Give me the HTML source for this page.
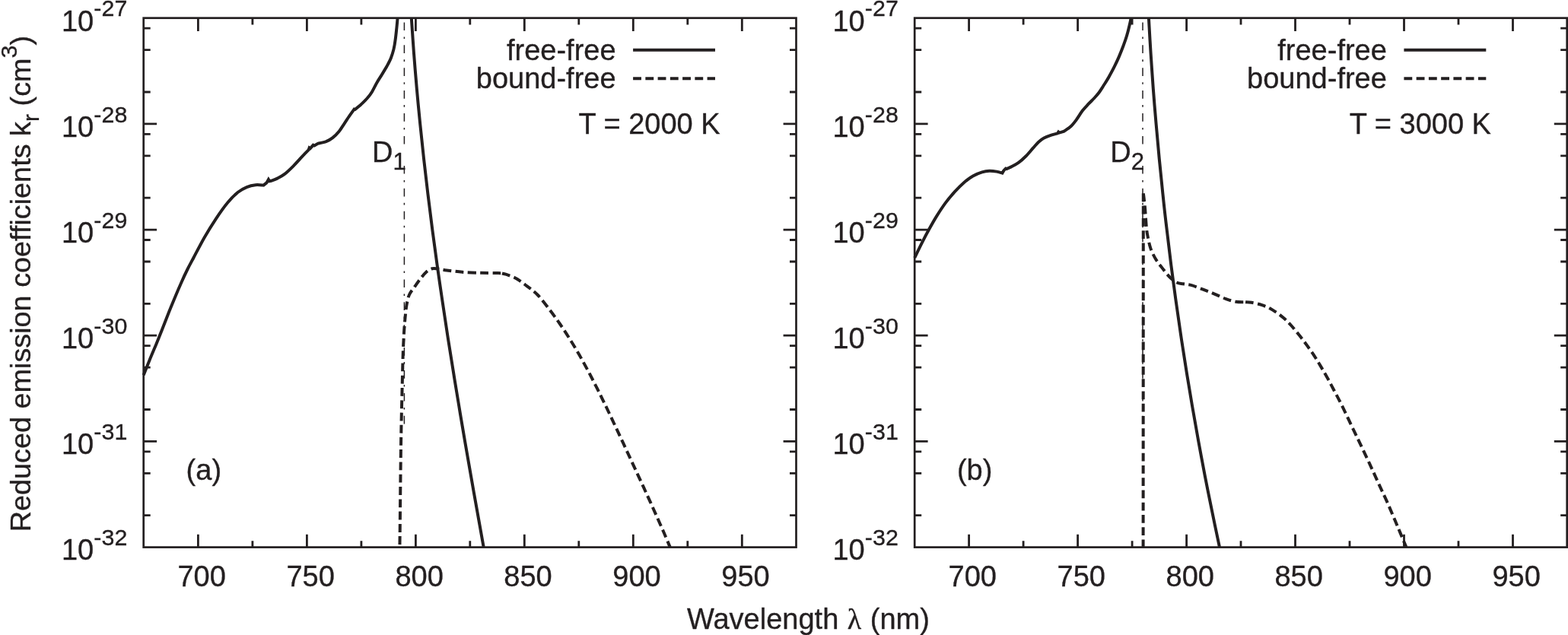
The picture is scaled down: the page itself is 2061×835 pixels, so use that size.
<!DOCTYPE html>
<html lang="en"><head><meta charset="utf-8"><title>Reduced emission coefficients</title>
<style>
html,body{margin:0;padding:0;background:#fff;}
body{width:2061px;height:835px;overflow:hidden;}
svg{display:block;}
text{font-family:"Liberation Sans", sans-serif;font-size:38.0px;fill:#231f20;stroke:#231f20;stroke-width:0.35px;stroke-linejoin:round;}
.s{font-size:30.4px;}
.b{font-size:31px;}
.ax{stroke:#231f20;stroke-width:2.7;fill:none;}
.tk{stroke:#231f20;stroke-width:2.8;fill:none;}
.cv{stroke:#231f20;stroke-width:4.0;fill:none;stroke-linejoin:miter;stroke-miterlimit:6;}
.ds{stroke:#231f20;stroke-width:4.0;fill:none;stroke-dasharray:10.85 5.4;stroke-linejoin:round;}
.dd{stroke:#231f20;stroke-width:1.5;fill:none;stroke-dasharray:10.7 8.3 2.6 8.3;}
</style></head><body>
<svg width="2061" height="835" viewBox="0 0 2061 835">
<rect width="2061" height="835" fill="#fff"/>
<g id="panel1">
<path class="tk" d="M260.4,719.6v-16.8M260.4,23.7v17.3M331.9,719.6v-8.3M331.9,23.7v8.7M403.4,719.6v-16.8M403.4,23.7v17.3M474.9,719.6v-8.3M474.9,23.7v8.7M546.4,719.6v-16.8M546.4,23.7v17.3M617.8,719.6v-8.3M617.8,23.7v8.7M689.3,719.6v-16.8M689.3,23.7v17.3M760.8,719.6v-8.3M760.8,23.7v8.7M832.3,719.6v-16.8M832.3,23.7v17.3M903.8,719.6v-8.3M903.8,23.7v8.7M975.3,719.6v-16.8M975.3,23.7v17.3M188.7,37.2h9.0M1046.5,37.2h-8.5M188.7,65.6h9.0M1046.5,65.6h-8.5M188.7,121.0h9.0M1046.5,121.0h-8.5M188.7,162.9h17.4M1046.5,162.9h-16.9M188.7,176.4h9.0M1046.5,176.4h-8.5M188.7,204.8h9.0M1046.5,204.8h-8.5M188.7,260.2h9.0M1046.5,260.2h-8.5M188.7,302.1h17.4M1046.5,302.1h-16.9M188.7,315.5h9.0M1046.5,315.5h-8.5M188.7,344.0h9.0M1046.5,344.0h-8.5M188.7,399.3h9.0M1046.5,399.3h-8.5M188.7,441.2h17.4M1046.5,441.2h-16.9M188.7,454.7h9.0M1046.5,454.7h-8.5M188.7,483.1h9.0M1046.5,483.1h-8.5M188.7,538.5h9.0M1046.5,538.5h-8.5M188.7,580.4h17.4M1046.5,580.4h-16.9M188.7,593.9h9.0M1046.5,593.9h-8.5M188.7,622.3h9.0M1046.5,622.3h-8.5M188.7,677.7h9.0M1046.5,677.7h-8.5"/>
<path class="dd" d="M531.4,189.6V23.7"/><path class="dd" d="M531.4,217.9V557.5"/><path class="cv" d="M188.7,493.3 C190.1,489.8 194.2,479.4 197.0,472.5 C199.8,465.6 202.7,458.9 205.5,452.2 C208.3,445.4 210.9,438.8 213.6,432.0 C216.3,425.2 218.9,418.3 221.6,411.5 C224.3,404.7 227.2,397.8 230.0,391.0 C232.8,384.2 235.9,376.9 238.7,370.7 C241.4,364.5 243.9,359.3 246.5,354.0 C249.1,348.7 250.7,346.0 254.4,339.0 C258.1,332.0 263.8,320.8 268.7,312.2 C273.6,303.6 279.0,295.0 284.1,287.3 C289.2,279.6 294.6,271.9 299.4,266.2 C304.2,260.4 308.6,256.2 312.8,252.8 C317.0,249.5 320.5,247.7 324.3,246.1 C328.1,244.5 332.1,243.6 335.8,243.2 C339.5,242.8 344.6,243.5 346.3,243.6 L350.4,240.4 L352.9,236.0 L354.3,238.3 L356.5,237.8 C357.8,237.3 361.6,236.1 364.5,234.6 C367.4,233.1 370.6,231.6 374.1,228.9 C377.6,226.2 381.8,222.1 385.6,218.3 C389.4,214.5 393.8,209.4 397.1,205.9 C400.4,202.4 404.2,198.6 405.6,197.2 L406.6,194.4 L407.8,195.2 L411.7,190.8 L413.2,191.5 L418.2,188.6 C419.9,188.2 425.4,187.3 428.6,186.1 C431.8,184.8 434.4,183.4 437.3,181.1 C440.2,178.8 443.4,175.6 445.9,172.5 C448.4,169.4 450.2,166.0 452.4,162.8 C454.5,159.6 456.9,155.8 458.8,153.1 C460.7,150.4 462.8,147.5 463.6,146.4 L465.6,143.6 L466.8,143.9 L473.9,138.0 C475.3,136.6 480.1,132.2 482.6,129.3 C485.1,126.4 486.9,124.2 489.0,120.7 C491.1,117.2 493.3,112.3 495.5,108.5 C497.7,104.7 499.9,101.5 502.0,98.0 C504.1,94.5 506.4,90.9 508.4,87.3 C510.4,83.7 512.3,80.3 513.8,76.5 C515.3,72.7 516.5,68.7 517.5,64.6 C518.5,60.5 519.1,56.4 519.7,51.7 C520.4,47.0 520.9,41.3 521.4,36.6 C521.9,31.9 522.4,25.9 522.6,23.7"/><path class="cv" d="M540.8,23.7 C541.3,31.4 542.8,54.6 544.0,70.1 C545.2,85.6 546.4,101.0 547.8,116.5 C549.2,132.0 550.6,147.4 552.2,162.9 C553.7,178.3 555.4,193.8 557.1,209.3 C558.8,224.7 560.6,240.2 562.5,255.7 C564.4,271.1 566.3,286.6 568.3,302.1 C570.4,317.5 572.5,333.0 574.6,348.5 C576.8,363.9 579.0,379.4 581.3,394.8 C583.6,410.3 585.9,425.8 588.3,441.2 C590.7,456.7 593.2,472.2 595.7,487.6 C598.1,503.1 600.7,518.6 603.3,534.0 C605.8,549.5 608.5,565.0 611.1,580.4 C613.8,595.9 616.5,611.3 619.2,626.8 C621.9,642.3 624.6,657.7 627.4,673.2 C630.2,688.7 634.4,711.9 635.7,719.6"/><path class="ds" stroke-dashoffset="11.6" d="M525.4,720.5 C525.5,713.8 525.7,700.1 525.9,680.0 C526.1,659.9 526.5,623.3 526.8,600.0 C527.1,576.7 527.4,561.7 527.9,540.0 C528.4,518.3 529.2,485.0 529.6,470.0 C530.0,455.0 530.1,456.2 530.4,450.0 C530.7,443.8 530.9,438.5 531.3,433.0 C531.7,427.5 532.1,422.3 532.6,417.0 C533.1,411.7 533.6,405.9 534.5,401.0 C535.4,396.1 536.2,391.5 538.0,387.5 C539.8,383.5 542.6,380.5 545.1,377.0 C547.6,373.5 550.2,369.5 552.8,366.3 C555.4,363.1 558.0,359.8 560.5,357.6 C563.0,355.4 565.6,353.9 568.1,353.2 C570.6,352.5 572.6,353.1 575.8,353.5 C579.0,353.9 581.9,354.7 587.3,355.4 C592.6,356.1 600.5,357.2 607.9,357.8 C615.3,358.4 624.9,358.6 631.9,358.8 C638.9,359.0 645.6,358.9 650.0,359.0 C654.4,359.1 657.0,359.2 658.4,359.2"/><path class="ds" d="M660.0,359.5 C660.8,359.7 662.8,360.1 664.8,360.7 C666.8,361.3 669.5,362.2 672.0,363.3 C674.5,364.4 676.4,364.8 679.9,367.0 C683.4,369.2 688.3,372.9 692.8,376.4 C697.3,379.9 701.9,382.8 706.9,388.0 C711.8,393.2 717.6,401.0 722.6,407.5 C727.6,414.0 732.2,420.5 736.7,427.0 C741.2,433.5 745.4,440.0 749.4,446.6 C753.5,453.1 757.3,459.6 761.1,466.1 C764.8,472.6 768.4,479.1 771.9,485.6 C775.4,492.1 778.7,498.6 782.0,505.1 C785.4,511.6 788.6,518.1 791.7,524.6 C794.9,531.1 798.0,537.6 801.1,544.1 C804.2,550.6 807.3,557.2 810.3,563.7 C813.3,570.2 816.4,576.7 819.4,583.2 C822.4,589.7 825.4,596.2 828.4,602.7 C831.4,609.2 834.4,615.7 837.4,622.2 C840.4,628.7 843.4,635.2 846.4,641.7 C849.3,648.2 852.3,654.7 855.3,661.2 C858.2,667.8 861.1,674.3 864.0,680.8 C866.9,687.3 869.8,693.8 872.6,700.3 C875.4,706.8 879.5,716.5 880.8,719.8"/><path class="cv" d="M832.1,65.8H940"/><path class="ds" d="M832.1,103.3H940"/>
<rect class="ax" x="188.7" y="23.7" width="857.8" height="695.9"/>
<text x="167.3" y="40.5" text-anchor="end">10<tspan class="s" dx="0.2" dy="-19.2">-27</tspan></text>
<text x="167.3" y="179.7" text-anchor="end">10<tspan class="s" dx="0.2" dy="-19.2">-28</tspan></text>
<text x="167.3" y="318.9" text-anchor="end">10<tspan class="s" dx="0.2" dy="-19.2">-29</tspan></text>
<text x="167.3" y="458.0" text-anchor="end">10<tspan class="s" dx="0.2" dy="-19.2">-30</tspan></text>
<text x="167.3" y="597.2" text-anchor="end">10<tspan class="s" dx="0.2" dy="-19.2">-31</tspan></text>
<text x="167.3" y="736.4" text-anchor="end">10<tspan class="s" dx="0.2" dy="-19.2">-32</tspan></text>
<text x="265.1" y="770.6" text-anchor="middle">700</text>
<text x="408.1" y="770.6" text-anchor="middle">750</text>
<text x="551.1" y="770.6" text-anchor="middle">800</text>
<text x="694.0" y="770.6" text-anchor="middle">850</text>
<text x="837.0" y="770.6" text-anchor="middle">900</text>
<text x="980.0" y="770.6" text-anchor="middle">950</text>
<text x="809.6" y="78.5" text-anchor="end">free-free</text><text x="809.6" y="116.1" text-anchor="end">bound-free</text><text x="760.4" y="175.8">T = 2000 K</text><text x="489.1" y="212.7">D<tspan class="b" dy="10.5">1</tspan></text><text x="244.6" y="631.3">(a)</text>
</g>
<g id="panel2">
<path class="tk" d="M1273.6,719.6v-16.8M1273.6,23.7v17.3M1345.1,719.6v-8.3M1345.1,23.7v8.7M1416.6,719.6v-16.8M1416.6,23.7v17.3M1488.1,719.6v-8.3M1488.1,23.7v8.7M1559.6,719.6v-16.8M1559.6,23.7v17.3M1631.0,719.6v-8.3M1631.0,23.7v8.7M1702.5,719.6v-16.8M1702.5,23.7v17.3M1774.0,719.6v-8.3M1774.0,23.7v8.7M1845.5,719.6v-16.8M1845.5,23.7v17.3M1917.0,719.6v-8.3M1917.0,23.7v8.7M1988.5,719.6v-16.8M1988.5,23.7v17.3M1202.2,37.2h9.0M2059.7,37.2h-8.5M1202.2,65.6h9.0M2059.7,65.6h-8.5M1202.2,121.0h9.0M2059.7,121.0h-8.5M1202.2,162.9h17.4M2059.7,162.9h-16.9M1202.2,176.4h9.0M2059.7,176.4h-8.5M1202.2,204.8h9.0M2059.7,204.8h-8.5M1202.2,260.2h9.0M2059.7,260.2h-8.5M1202.2,302.1h17.4M2059.7,302.1h-16.9M1202.2,315.5h9.0M2059.7,315.5h-8.5M1202.2,344.0h9.0M2059.7,344.0h-8.5M1202.2,399.3h9.0M2059.7,399.3h-8.5M1202.2,441.2h17.4M2059.7,441.2h-16.9M1202.2,454.7h9.0M2059.7,454.7h-8.5M1202.2,483.1h9.0M2059.7,483.1h-8.5M1202.2,538.5h9.0M2059.7,538.5h-8.5M1202.2,580.4h17.4M2059.7,580.4h-16.9M1202.2,593.9h9.0M2059.7,593.9h-8.5M1202.2,622.3h9.0M2059.7,622.3h-8.5M1202.2,677.7h9.0M2059.7,677.7h-8.5"/>
<path class="dd" d="M1502.0,189.6V23.7"/><path class="dd" d="M1502.0,217.9V557.5"/><path class="cv" d="M1202.2,339.0 C1203.8,335.7 1208.6,325.6 1211.8,319.3 C1215.0,313.0 1218.1,307.1 1221.3,301.3 C1224.5,295.5 1227.3,290.4 1230.9,284.6 C1234.5,278.8 1238.9,272.0 1242.9,266.6 C1246.9,261.2 1250.9,256.6 1254.9,252.2 C1258.9,247.8 1262.9,243.7 1266.9,240.2 C1270.9,236.7 1274.8,233.7 1278.8,231.4 C1282.8,229.1 1287.2,227.4 1290.8,226.3 C1294.4,225.2 1297.2,224.8 1300.4,224.7 C1303.6,224.6 1307.2,225.1 1310.0,225.6 C1312.8,226.1 1316.2,227.3 1317.4,227.6 L1319.4,224.2 L1322.0,221.6 L1323.2,222.1 L1329.1,219.4 C1330.7,218.5 1335.5,216.2 1338.7,213.9 C1341.9,211.6 1345.1,208.7 1348.3,205.5 C1351.5,202.3 1355.1,197.8 1357.9,194.7 C1360.7,191.6 1362.7,189.0 1365.1,186.8 C1367.5,184.6 1369.4,183.1 1372.2,181.6 C1375.0,180.1 1378.8,178.7 1381.8,177.7 C1384.8,176.7 1388.6,175.8 1390.0,175.4 L1391.2,173.6 L1392.3,174.6 L1398.6,172.6 C1400.1,171.5 1404.9,168.6 1407.7,166.0 C1410.5,163.4 1412.8,160.2 1415.3,156.8 C1417.8,153.4 1420.4,148.7 1423.0,145.3 C1425.6,142.0 1428.2,139.4 1430.7,136.7 C1433.2,134.0 1436.1,131.4 1438.3,129.0 C1440.5,126.6 1442.2,124.8 1444.1,122.3 C1446.0,119.8 1447.6,117.2 1449.8,113.7 C1452.0,110.2 1455.0,105.7 1457.5,101.2 C1460.0,96.7 1462.9,91.4 1465.1,86.9 C1467.3,82.4 1469.0,78.9 1470.9,74.4 C1472.8,69.9 1474.8,64.8 1476.6,60.0 C1478.3,55.2 1480.0,50.7 1481.4,45.7 C1482.9,40.8 1484.4,34.0 1485.3,30.3 C1486.2,26.6 1486.4,24.8 1486.6,23.7"/><path class="cv" d="M1509.9,23.7 C1510.3,31.4 1511.6,54.6 1512.6,70.1 C1513.6,85.6 1514.7,101.0 1515.8,116.5 C1517.0,132.0 1518.2,147.4 1519.6,162.9 C1520.9,178.3 1522.3,193.8 1523.8,209.3 C1525.3,224.7 1526.8,240.2 1528.5,255.7 C1530.1,271.1 1531.8,286.6 1533.7,302.1 C1535.5,317.5 1537.4,333.0 1539.3,348.5 C1541.3,363.9 1543.4,379.4 1545.5,394.8 C1547.7,410.3 1549.9,425.8 1552.2,441.2 C1554.5,456.7 1556.9,472.2 1559.4,487.6 C1561.9,503.1 1564.5,518.6 1567.1,534.0 C1569.8,549.5 1572.5,565.0 1575.3,580.4 C1578.1,595.9 1581.1,611.3 1584.0,626.8 C1587.0,642.3 1590.1,657.7 1593.3,673.2 C1596.4,688.7 1601.4,711.9 1603.0,719.6"/><path class="ds" d="M1502.8,254.4 L1502.6,720.6"/><path class="ds" d="M1502.9,254.4 C1503.2,257.4 1504.2,264.6 1504.9,272.3 C1505.6,280.0 1506.3,293.6 1507.0,300.4 C1507.7,307.2 1508.2,309.0 1509.1,313.3 C1510.0,317.6 1510.7,321.8 1512.3,326.3 C1513.9,330.8 1516.3,336.0 1518.8,340.3 C1521.3,344.6 1524.4,348.2 1527.4,352.1 C1530.5,356.1 1533.9,360.8 1537.1,364.0 C1540.3,367.2 1543.7,369.9 1546.8,371.5 C1549.9,373.1 1552.2,372.7 1555.5,373.3 C1558.8,373.9 1562.0,373.9 1566.3,375.1 C1570.6,376.3 1576.4,378.8 1581.4,380.7 C1586.4,382.6 1591.4,384.5 1596.4,386.6 C1601.4,388.7 1606.8,391.4 1611.5,393.1 C1616.2,394.8 1620.5,396.1 1624.5,396.8 C1628.5,397.5 1633.6,397.2 1635.4,397.3"/><path class="ds" d="M1637.0,397.3 C1638.3,397.4 1641.4,397.2 1645.0,397.8 C1648.6,398.4 1654.2,399.5 1658.8,401.1 C1663.4,402.7 1668.1,404.8 1672.8,407.6 C1677.5,410.4 1682.7,414.2 1686.8,417.7 C1690.9,421.2 1694.0,424.5 1697.6,428.5 C1701.2,432.5 1705.0,437.2 1708.4,441.5 C1711.8,445.8 1714.9,449.9 1718.1,454.4 C1721.3,458.9 1724.8,463.7 1727.8,468.4 C1730.8,473.1 1733.5,477.5 1736.4,482.4 C1739.3,487.2 1742.2,492.3 1745.1,497.5 C1748.0,502.7 1750.5,507.7 1753.7,513.7 C1756.9,519.7 1760.3,526.1 1764.0,533.6 C1767.7,541.1 1772.0,550.4 1776.0,558.8 C1780.0,567.2 1784.0,575.5 1788.0,583.9 C1792.0,592.3 1795.9,600.5 1799.9,609.1 C1803.9,617.7 1807.8,626.5 1811.9,635.5 C1816.0,644.5 1820.4,653.5 1824.6,663.1 C1828.8,672.7 1833.3,683.5 1837.3,693.0 C1841.3,702.5 1846.6,715.3 1848.5,719.8"/><path class="cv" d="M1845.4,65.8H1953.3"/><path class="ds" d="M1845.4,103.3H1953.3"/>
<rect class="ax" x="1202.2" y="23.7" width="857.5" height="695.9"/>
<text x="1180.8" y="40.5" text-anchor="end">10<tspan class="s" dx="0.2" dy="-19.2">-27</tspan></text>
<text x="1180.8" y="179.7" text-anchor="end">10<tspan class="s" dx="0.2" dy="-19.2">-28</tspan></text>
<text x="1180.8" y="318.9" text-anchor="end">10<tspan class="s" dx="0.2" dy="-19.2">-29</tspan></text>
<text x="1180.8" y="458.0" text-anchor="end">10<tspan class="s" dx="0.2" dy="-19.2">-30</tspan></text>
<text x="1180.8" y="597.2" text-anchor="end">10<tspan class="s" dx="0.2" dy="-19.2">-31</tspan></text>
<text x="1180.8" y="736.4" text-anchor="end">10<tspan class="s" dx="0.2" dy="-19.2">-32</tspan></text>
<text x="1278.3" y="770.6" text-anchor="middle">700</text>
<text x="1421.3" y="770.6" text-anchor="middle">750</text>
<text x="1564.3" y="770.6" text-anchor="middle">800</text>
<text x="1707.2" y="770.6" text-anchor="middle">850</text>
<text x="1850.2" y="770.6" text-anchor="middle">900</text>
<text x="1993.2" y="770.6" text-anchor="middle">950</text>
<text x="1822.9" y="78.5" text-anchor="end">free-free</text><text x="1822.9" y="116.1" text-anchor="end">bound-free</text><text x="1773.7" y="175.8">T = 3000 K</text><text x="1459.2" y="212.7">D<tspan class="b" dy="10.5">2</tspan></text><text x="1257.9" y="631.3">(b)</text>
</g>
<text x="903" y="826.6">Wavelength <tspan dx="1" font-family="'Liberation Serif', serif">λ</tspan><tspan dx="1"> (nm)</tspan></text><text style="font-size:37.8px" transform="translate(40.2,699.3) rotate(-90)">Reduced emission coefficients k<tspan class="s" dy="10.5">r</tspan><tspan dy="-10.5"> (cm</tspan><tspan class="s" dy="-18.700000000000003">3</tspan><tspan dy="18.700000000000003">)</tspan></text>
</svg></body></html>
